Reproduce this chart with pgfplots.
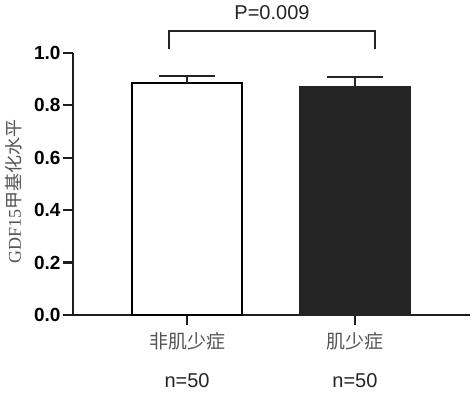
\documentclass[border=0pt]{standalone}
\usepackage{pgfplots}
\pgfplotsset{compat=1.18}
\usepackage{fontspec}
\setmainfont{Liberation Sans}
\newfontfamily\cjk{Noto Sans CJK SC}
\newfontfamily\serifl{Liberation Serif}
\definecolor{barblack}{HTML}{242424}
\definecolor{axisc}{HTML}{1E1E1E}
\definecolor{lblgray}{HTML}{555555}
\begin{document}
\begin{tikzpicture}[x=1pt,y=1pt]
\useasboundingbox (0,0) rectangle (474,392);
\begin{axis}[
  at={(73pt,77pt)}, anchor=south west,
  scale only axis,
  width=397pt, height=262.3pt,
  axis lines=left,
  axis line style={-, line width=2.2pt, color=axisc},
  xmin=-0.679, xmax=1.685,
  ymin=0, ymax=1.0,
  ytick={0,0.2,0.4,0.6,0.8,1.0},
  yticklabel style={/pgf/number format/fixed, /pgf/number format/fixed zerofill, /pgf/number format/precision=1, /pgf/number format/assume math mode=true, font=\fontsize{19}{22}\selectfont\bfseries, color=black, xshift=1pt},
  xtick={0,1},
  xticklabels={{\cjk 非肌少症}, {\cjk 肌少症}},
  xticklabel style={font=\fontsize{19}{22}\selectfont, color=lblgray, yshift=-4pt},
  tick align=outside,
  major tick length=10pt,
  tick style={line width=2.2pt, color=axisc},
  clip=false,
  ylabel={{\serifl GDF15}{\cjk 甲基化水平}},
  ylabel style={font=\fontsize{18}{21}\selectfont, color=lblgray, at={(axis description cs:-0.1486,0.47)}, anchor=center},
]
\addplot[ybar, bar width=110pt, bar shift=0pt, draw=black, fill=white, line width=2.2pt,
  error bars/.cd, y dir=plus, y explicit,
  error bar style={line width=2pt, color=barblack},
  error mark options={line width=2pt, mark size=28pt, rotate=90, color=barblack}]
  coordinates {(0,0.883) +- (0,0.029)};
\addplot[ybar, bar width=110pt, bar shift=0pt, draw=barblack, fill=barblack, line width=2.2pt,
  error bars/.cd, y dir=plus, y explicit,
  error bar style={line width=2pt, color=barblack},
  error mark options={line width=2pt, mark size=28pt, rotate=90, color=barblack}]
  coordinates {(1,0.868) +- (0,0.041)};
\draw[line width=2pt, color=barblack] (axis cs:-0.107,1.014) -- (axis cs:-0.107,1.083) -- (axis cs:1.119,1.083) -- (axis cs:1.119,1.014);
\node[font=\fontsize{20}{24}\selectfont, color=barblack] at (axis cs:0.506,1.151) {P=0.009};
\node[font=\fontsize{20}{24}\selectfont, color=barblack] at (axis cs:0,-0.249) {n=50};
\node[font=\fontsize{20}{24}\selectfont, color=barblack] at (axis cs:1,-0.249) {n=50};
\end{axis}
\end{tikzpicture}
\end{document}
